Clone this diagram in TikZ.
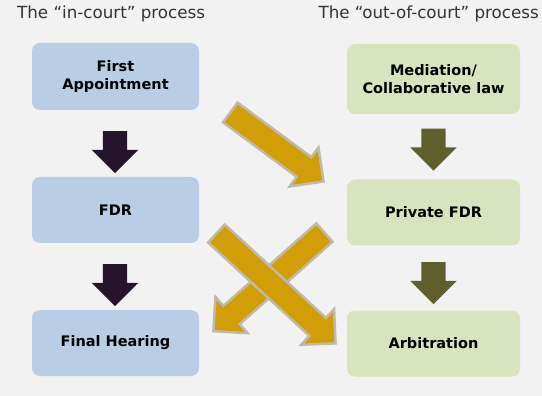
\documentclass[tikz,border=0pt]{standalone}
\usepackage{fontspec}
\setmainfont{DejaVu Sans}
\usetikzlibrary{shapes.arrows}

\definecolor{bggray}{RGB}{242,242,242}
\definecolor{courtblue}{RGB}{185,205,228}
\definecolor{altgreen}{RGB}{215,228,189}
\definecolor{plumdark}{RGB}{38,20,45}
\definecolor{olivedark}{RGB}{95,95,45}
\definecolor{goldfill}{RGB}{210,158,8}
\definecolor{goldedge}{RGB}{192,186,172}

\begin{document}
\begin{tikzpicture}[x=1pt,y=-1pt,
    stagebox/.style={rounded corners=8pt, minimum height=66pt,
        align=center, inner sep=0pt, font=\fontsize{14.5}{17.5}\selectfont\bfseries},
    inbox/.style={stagebox, fill=courtblue, minimum width=167pt},
    outbox/.style={stagebox, fill=altgreen, minimum width=173pt},
    downarrow/.style={single arrow, rotate=-90, inner xsep=0pt, inner ysep=12pt,
        single arrow head extend=11pt, minimum height=42pt},
    crossarrow/.style={single arrow, fill=goldfill, draw=goldedge, line width=2.5pt,
        inner xsep=0pt, inner ysep=11pt, single arrow head extend=12pt},
    heading/.style={font=\fontsize{16.7}{19}\selectfont, text=black!80, inner sep=0pt}]
    % background and frame
    \fill[bggray] (0,0) rectangle (542,396);
    \useasboundingbox (0,0) rectangle (542,396);
    \node[heading, anchor=west] (intitle) at (17,14) {The “in-court” process};
    \node[heading, anchor=east] (outtitle) at (539,14) {The “out-of-court” process};
    % in-court column
    \node[inbox, minimum height=67pt] (first) at (115.5,76.5) {First\\Appointment};
    \node[inbox] (fdr) at (115.5,210) {FDR};
    \node[inbox] (final) at (115.5,343) {Final Hearing};
    \node[downarrow, fill=plumdark] (inA) at (115,146) {};
    \node[downarrow, fill=plumdark] (inB) at (115,279) {};
    % out-of-court column
    \node[outbox, minimum height=70pt] (mediation) at (433.5,79) {Mediation/\\Collaborative law};
    \node[outbox] (privfdr) at (433.5,212.5) {Private FDR};
    \node[outbox] (arbitration) at (433.5,343.5) {Arbitration};
    \node[downarrow, fill=olivedark] (outA) at (433.5,143.5) {};
    \node[downarrow, fill=olivedark] (outB) at (433.5,277) {};
    % switching between the two
    \node[crossarrow, minimum height=116pt, rotate=-36.5] (goA) at (272,143.3) {};
    \node[crossarrow, minimum height=148.5pt, rotate=221.6] (goB) at (273.5,277.8) {};
    \node[crossarrow, minimum height=162pt, rotate=-42.7] (goC) at (271.5,284.3) {};
\end{tikzpicture}
\end{document}
